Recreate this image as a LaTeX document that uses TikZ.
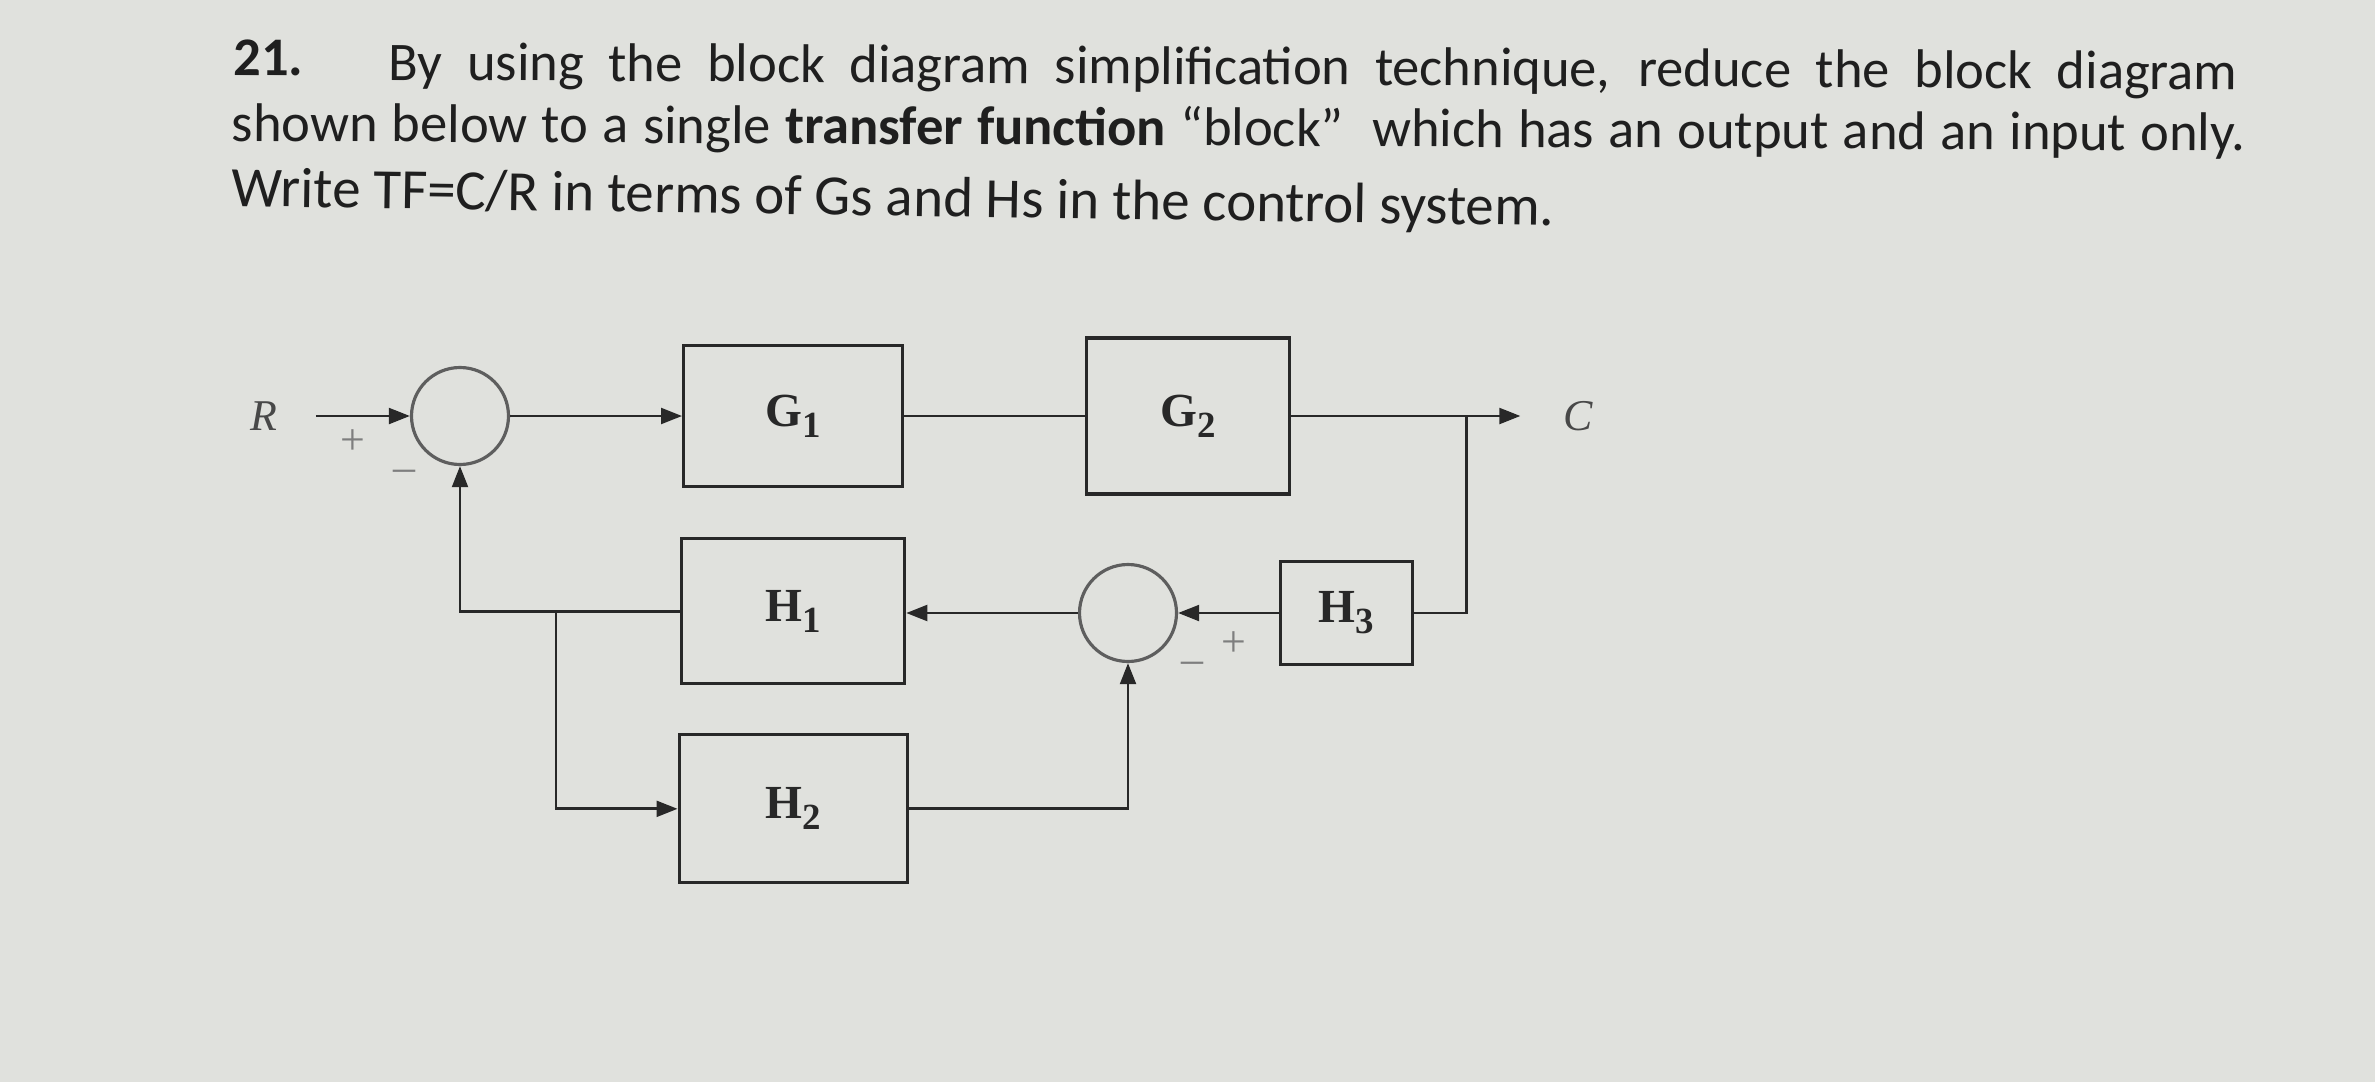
\documentclass[tikz,border=0pt]{standalone}
\usepackage{fontspec}
\setmainfont{Liberation Serif}
\newfontfamily\qfont{Carlito}
\usetikzlibrary{positioning,arrows.meta}
\definecolor{paper}{RGB}{224,225,221}
\definecolor{ink}{RGB}{40,40,40}
\newcommand{\blk}[2]{#1\raisebox{-0.5ex}{\fontsize{10.5}{10.5}\selectfont #2}}

\begin{document}
\begin{tikzpicture}[every node/.style={inner sep=0pt},
    block/.style={draw=ink, line width=0.9pt, rectangle, font=\fontsize{13.5}{15}\selectfont\bfseries, text=ink},
    sumj/.style={draw=ink!75, line width=0.9pt, circle, minimum size=0.97cm},
    sig/.style={draw=ink, line width=0.8pt, -{Triangle[length=6pt,width=4.5pt]}},
    wire/.style={draw=ink, line width=0.8pt},
    var/.style={font=\fontsize{12.5}{14}\selectfont\itshape, text=ink!85},
    sgn/.style={font=\fontsize{12.5}{13}\selectfont, text=ink!60},
    qline/.style={anchor=base west, font=\qfont\fontsize{15.5}{18}\selectfont, text=black!88}]

    \fill[paper] (0,0) rectangle (23.75,-10.82);
    \useasboundingbox (0,0) rectangle (23.75,-10.82);

    \node[qline, rotate=-0.3] (num) at (2.33,-0.75) {\bfseries 21.};
    \node[qline, rotate=-0.3] (q1) at (3.88,-0.80) {\hbox to 18.49cm{By using the block diagram simplification technique, reduce the block diagram}};
    \node[qline, rotate=-0.28] (q2) at (2.31,-1.41) {\hbox to 20.14cm{shown below to a single \textbf{transfer function} “block”\ \ which has an output and an input only.}};
    \node[qline, rotate=-0.85, font=\qfont\fontsize{16.2}{19}\selectfont] (q3) at (2.31,-2.06) {Write TF=C/R in terms of Gs and Hs in the control system.};

    \node[sumj] (s1) at (4.60,-4.16) {};
    \node[var, left=1.32cm of s1] (R) {R};
    \node[block, minimum width=2.19cm, minimum height=1.41cm, right=1.72cm of s1] (G1) {\blk{G}{1}};
    \node[block, minimum width=2.03cm, minimum height=1.56cm, right=1.81cm of G1] (G2) {\blk{G}{2}};
    \node[var, right=2.71cm of G2] (C) {C};
    \node[block, minimum width=2.23cm, minimum height=1.45cm, below=0.49cm of G1] (H1) {\blk{H}{1}};
    \node[block, minimum width=2.28cm, minimum height=1.48cm, below=0.48cm of H1] (H2) {\blk{H}{2}};
    \node[sumj] (s2) at (11.28,-6.13) {};
    \node[block, minimum width=1.32cm, minimum height=1.03cm, right=1.01cm of s2] (H3) {\blk{H}{3}};

    \coordinate[right=1.75cm of G2.east] (t1);
    \coordinate[left=1.24cm of H1.west] (t2);

    \node[sgn] (p1) at (3.53,-4.42) {+};
    \node[sgn] (m1) at (4.04,-4.76) {--};
    \node[sgn] (p2) at (12.34,-6.44) {+};
    \node[sgn] (m2) at (11.92,-6.68) {--};

    \draw[sig, shorten <=0.38cm] (R) -- (s1);
    \draw[sig] (s1) -- (s1 -| G1.west);
    \draw[wire] (G1) -- (G2);
    \draw[sig, shorten >=0.42cm] (G2) -- (C);
    \draw[wire] (t1) |- (H3);
    \draw[sig] (H3) -- (s2);
    \draw[sig] (s2) -- (s2 -| H1.east);
    \draw[sig] (H1) -| (s1);
    \draw[sig] (t2) |- (H2);
    \draw[sig] (H2) -| (s2);
\end{tikzpicture}
\end{document}
